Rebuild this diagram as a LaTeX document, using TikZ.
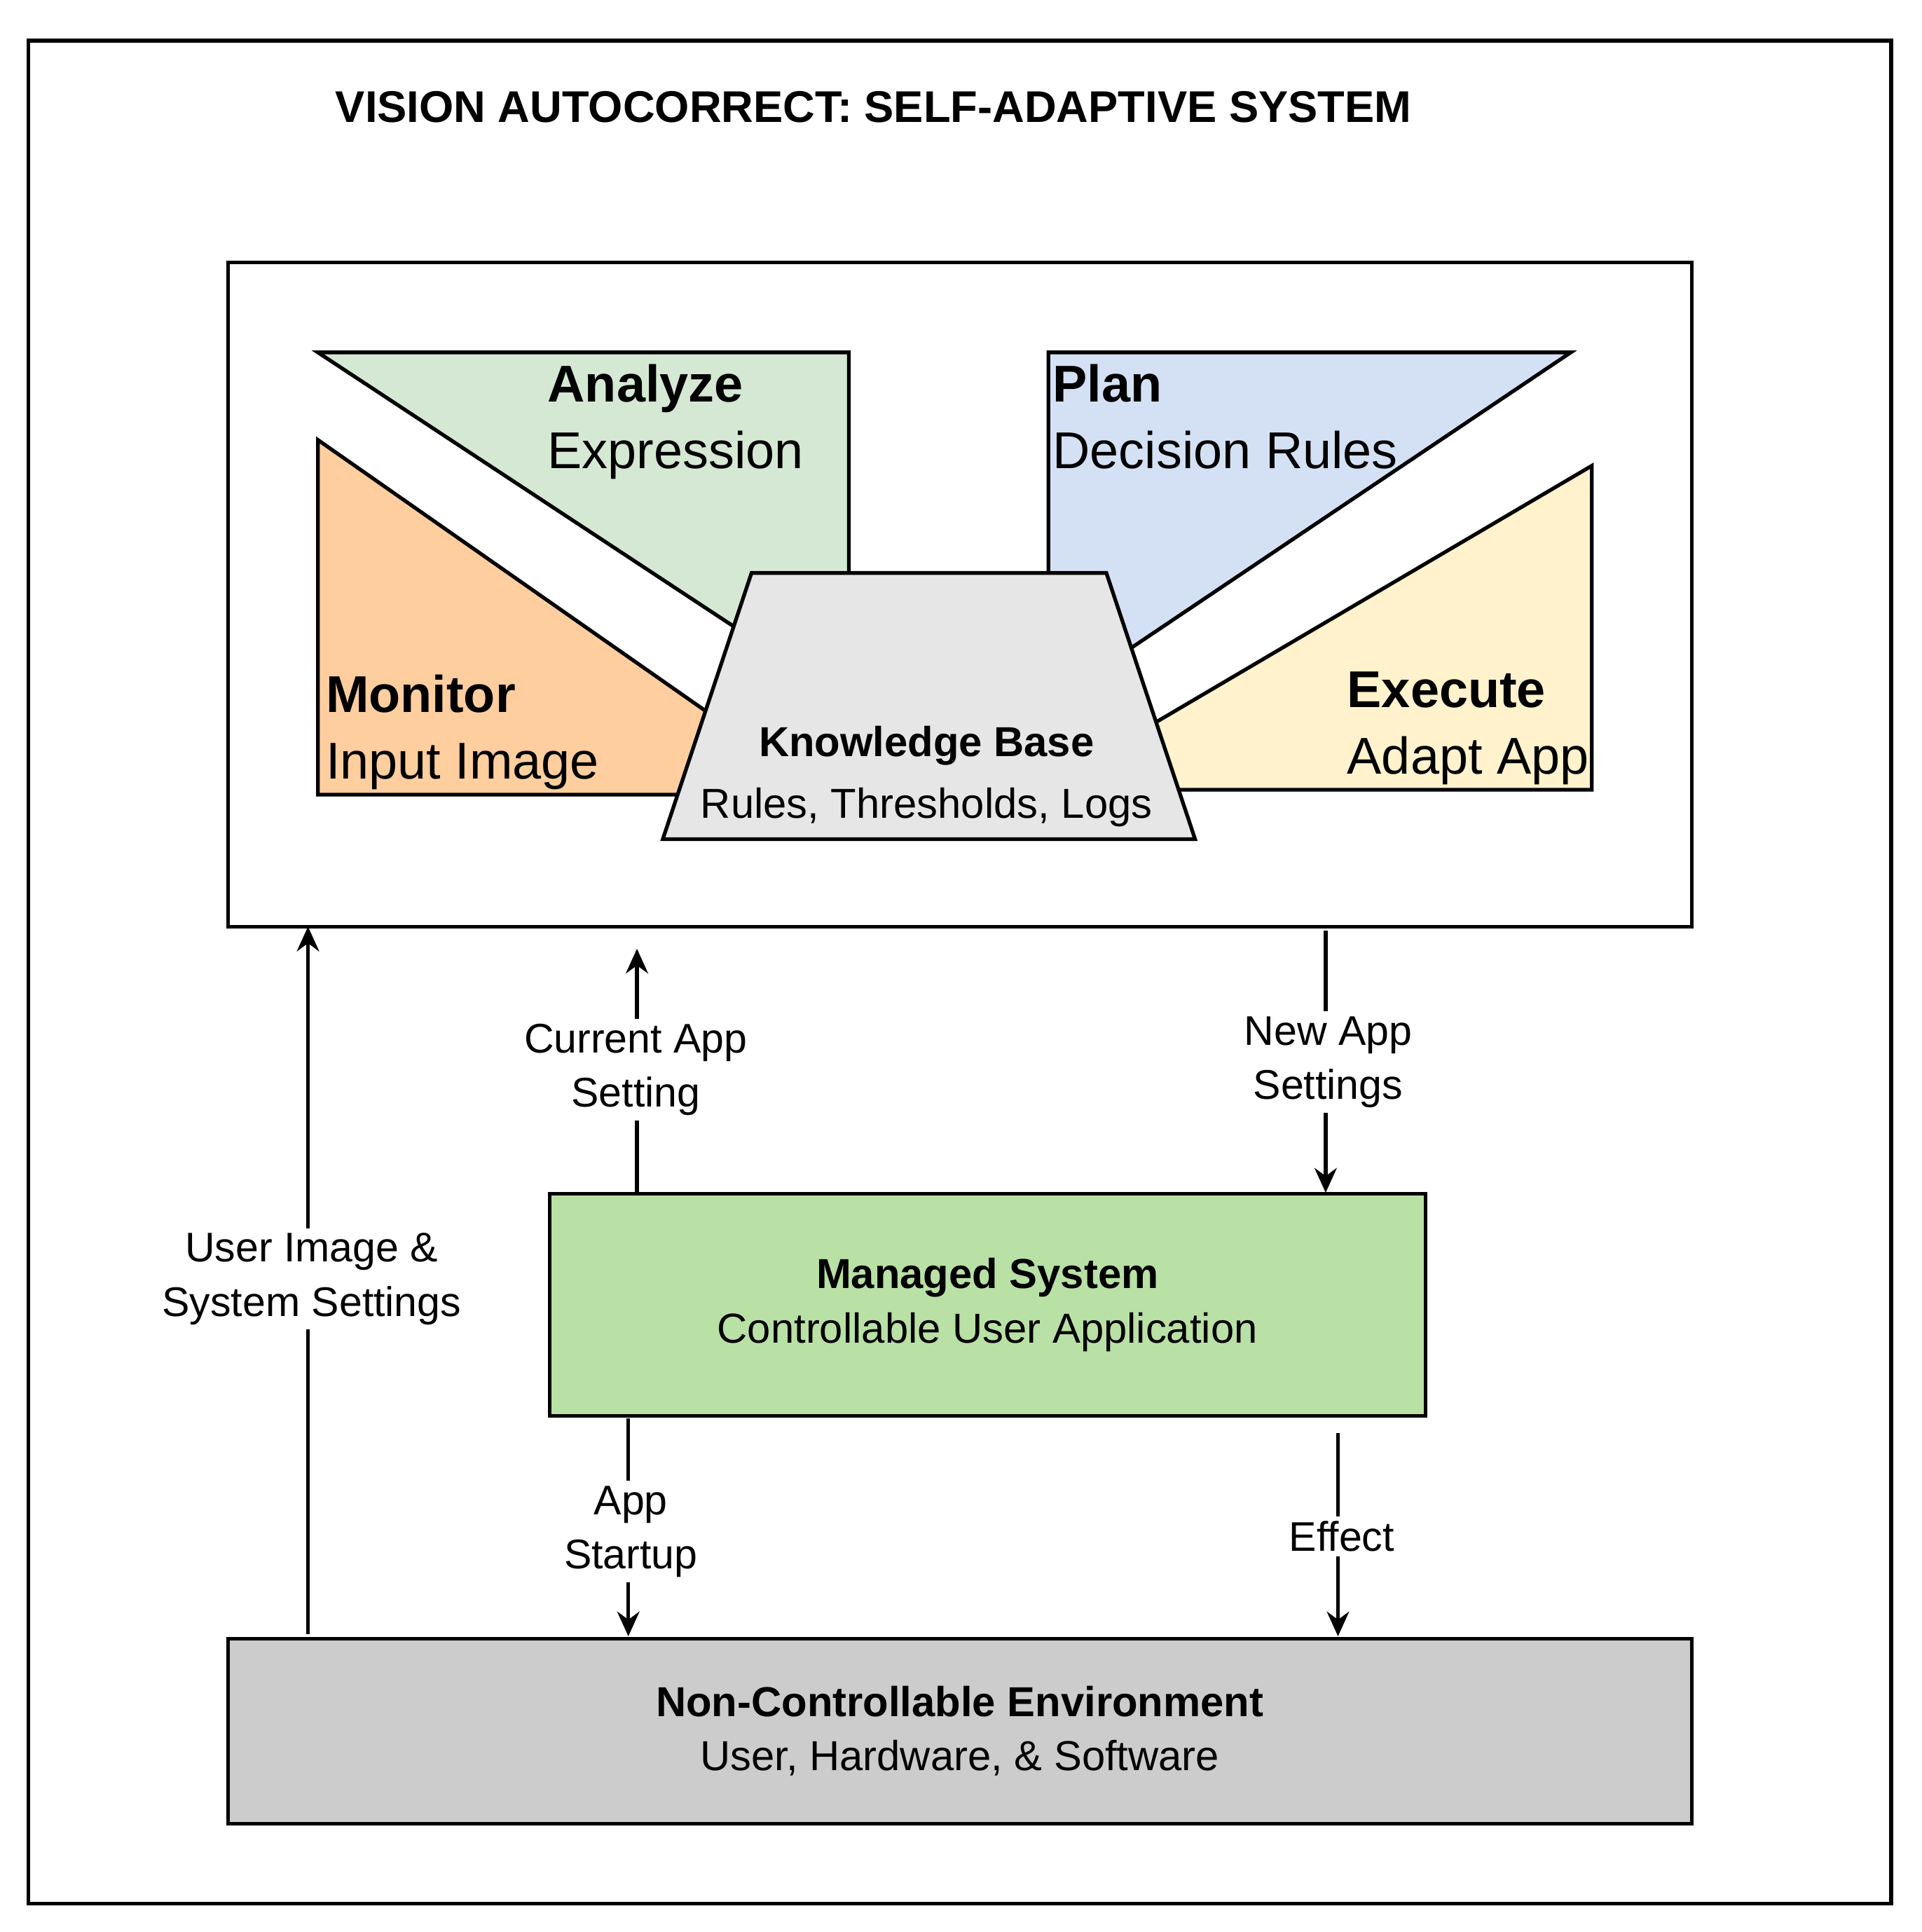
\documentclass[tikz,border=0pt]{standalone}
\usepackage{fontspec}
\setmainfont{Liberation Sans}
\usetikzlibrary{arrows.meta}
\begin{document}
\begin{tikzpicture}[x=0.5pt,y=-0.5pt,line width=1.5pt,
  big/.style={font=\fontsize{21}{25}\selectfont,anchor=base west,inner sep=0},
  lab/.style={font=\fontsize{16.8}{22}\selectfont,align=center,fill=white,inner sep=2pt},
  arr/.style={-{Stealth[length=10pt,width=9pt]}}]
\useasboundingbox (0,0) rectangle (1560,1568);
\draw (23,33) rectangle (1535,1545);
\node[font=\bfseries\fontsize{18}{20}\selectfont,anchor=base] (title) at (709,99) {VISION AUTOCORRECT: SELF-ADAPTIVE SYSTEM};
\draw (185,213) rectangle (1373,752);
\draw[fill={rgb,255:red,213;green,232;blue,212}] (258,286) -- (689,286) -- (689,570) -- cycle;
\draw[fill={rgb,255:red,255;green,206;blue,159}] (258,357) -- (670,645) -- (258,645) -- cycle;
\draw[fill={rgb,255:red,212;green,225;blue,245}] (851,286) -- (1275,286) -- (851,571) -- cycle;
\draw[fill={rgb,255:red,255;green,242;blue,204}] (1292,378) -- (1292,641) -- (845,641) -- cycle;
\draw[fill={rgb,255:red,230;green,230;blue,230}] (610,465) -- (898,465) -- (970,681) -- (538,681) -- cycle;
\node[big,font=\bfseries\fontsize{21}{25}\selectfont] (an) at (443,326) {Analyze};
\node[big] (ex) at (443,380) {Expression};
\node[big,font=\bfseries\fontsize{21}{25}\selectfont] (pl) at (853,326) {Plan};
\node[big] (dr) at (853,380) {Decision Rules};
\node[big,font=\bfseries\fontsize{21}{25}\selectfont] (mo) at (263,578) {Monitor};
\node[big] (ii) at (263,632) {Input Image};
\node[big,font=\bfseries\fontsize{21}{25}\selectfont] (exe) at (1092,574) {Execute};
\node[big] (aa) at (1092,628) {Adapt App};
\node[font=\bfseries\fontsize{17}{20}\selectfont,anchor=base] (kb) at (752,614) {Knowledge Base};
\node[font=\fontsize{17}{20}\selectfont,anchor=base] (kr) at (752,664) {Rules, Thresholds, Logs};
\node[draw,fill={rgb,255:red,185;green,224;blue,165},minimum width=355.5pt,minimum height=90pt,align=center,font=\fontsize{17}{22}\selectfont] (ms) at (801.5,1059) {\textbf{Managed System}\\Controllable User Application};
\node[draw,fill={rgb,255:red,204;green,204;blue,204},minimum width=594pt,minimum height=75pt,align=center,font=\fontsize{17}{22}\selectfont] (env) at (779,1405) {\textbf{Non-Controllable Environment}\\User, Hardware, \& Software};
\coordinate (a1s) at (250,1326); \coordinate (a1e) at (250,752);
\draw[arr] (a1s) -- (a1e);
\node[lab] at (253,1038) {User Image \&\\System Settings};
\coordinate (a2s) at (517,968); \coordinate (a2e) at (517,770);
\draw[arr] (a2s) -- (a2e);
\node[lab] at (516,868) {Current App\\Setting};
\coordinate (a3s) at (1076,755); \coordinate (a3e) at (1076,968);
\draw[arr] (a3s) -- (a3e);
\node[lab] at (1078,862) {New App\\Settings};
\coordinate (a4s) at (510,1151); \coordinate (a4e) at (510,1328);
\draw[arr] (a4s) -- (a4e);
\node[lab] at (512,1243) {App\\Startup};
\coordinate (a5s) at (1086,1163); \coordinate (a5e) at (1086,1328);
\draw[arr] (a5s) -- (a5e);
\node[lab] at (1089,1247) {Effect};
\end{tikzpicture}
\end{document}
